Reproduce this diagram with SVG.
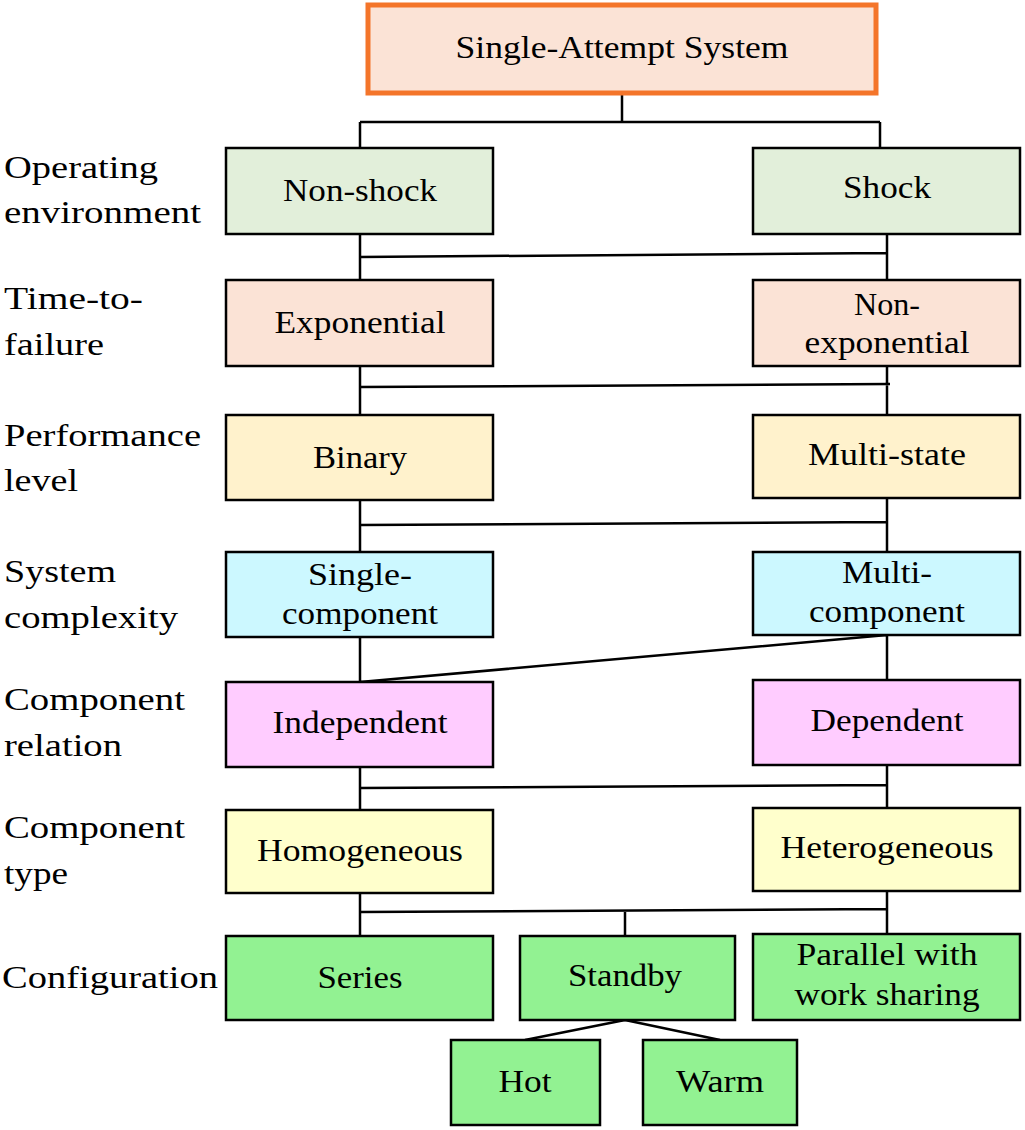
<svg xmlns="http://www.w3.org/2000/svg" width="1025" height="1130" viewBox="0 0 1025 1130">
<style>
rect{stroke:#000;stroke-width:2.5}
text{font-family:"Liberation Serif",serif;font-size:32px;fill:#000}
.c{text-anchor:middle}
#conn path{fill:none;stroke:#000;stroke-width:2.5}
</style>
<rect width="1025" height="1130" fill="#fff" style="stroke:none"/>
<g id="conn">
<path d="M622 93V122M360 122H880M360 122V148M880 122V148"/>
<path d="M360 234V280M887 234V280M360 257L887 253"/>
<path d="M360 366V415M887 366V415M360 387L890 384"/>
<path d="M360 500V552M887 498V552M360 525L887 522"/>
<path d="M360 637V682M887 635V680M360 682L887 635"/>
<path d="M360 767V810M887 765V808M360 788L887 785"/>
<path d="M360 893V936M887 891V934M360 912L887 909M625 912V936"/>
<path d="M625 1020L525 1040M625 1020L720 1040"/>
</g>
<g id="labels" lengthAdjust="spacingAndGlyphs">
<text x="4" y="178" textLength="154" lengthAdjust="spacingAndGlyphs">Operating</text><text x="4" y="223" textLength="197" lengthAdjust="spacingAndGlyphs">environment</text>
<text x="4" y="309" textLength="139" lengthAdjust="spacingAndGlyphs">Time-to-</text><text x="4" y="355" textLength="100" lengthAdjust="spacingAndGlyphs">failure</text>
<text x="4" y="446" textLength="197" lengthAdjust="spacingAndGlyphs">Performance</text><text x="4" y="491" textLength="74" lengthAdjust="spacingAndGlyphs">level</text>
<text x="4" y="582" textLength="112" lengthAdjust="spacingAndGlyphs">System</text><text x="4" y="628" textLength="174" lengthAdjust="spacingAndGlyphs">complexity</text>
<text x="4" y="710" textLength="181" lengthAdjust="spacingAndGlyphs">Component</text><text x="4" y="756" textLength="118" lengthAdjust="spacingAndGlyphs">relation</text>
<text x="4" y="838" textLength="181" lengthAdjust="spacingAndGlyphs">Component</text><text x="4" y="884" textLength="64" lengthAdjust="spacingAndGlyphs">type</text>
<text x="2" y="988" textLength="216" lengthAdjust="spacingAndGlyphs">Configuration</text>
</g>
<g id="top"><rect x="368" y="5" width="508" height="88" fill="#fbe3d6" style="stroke:#f4752a;stroke-width:5"/><text class="c" x="622" y="58" textLength="333" lengthAdjust="spacingAndGlyphs">Single-Attempt System</text></g>
<g id="nonshock"><rect x="226" y="148" width="267" height="86" fill="#e2efda"/><text class="c" x="360" y="201" textLength="154" lengthAdjust="spacingAndGlyphs">Non-shock</text></g>
<g id="shock"><rect x="753" y="148" width="267" height="86" fill="#e2efda"/><text class="c" x="887" y="198" textLength="88" lengthAdjust="spacingAndGlyphs">Shock</text></g>
<g id="exp"><rect x="226" y="280" width="267" height="86" fill="#fbe3d6"/><text class="c" x="360" y="333" textLength="171" lengthAdjust="spacingAndGlyphs">Exponential</text></g>
<g id="nonexp"><rect x="753" y="280" width="267" height="86" fill="#fbe3d6"/><text class="c" x="887" y="315" textLength="66" lengthAdjust="spacingAndGlyphs">Non-</text><text class="c" x="887" y="353" textLength="165" lengthAdjust="spacingAndGlyphs">exponential</text></g>
<g id="binary"><rect x="226" y="415" width="267" height="85" fill="#fff2cc"/><text class="c" x="360" y="468" textLength="94" lengthAdjust="spacingAndGlyphs">Binary</text></g>
<g id="multistate"><rect x="753" y="415" width="267" height="83" fill="#fff2cc"/><text class="c" x="887" y="465" textLength="158" lengthAdjust="spacingAndGlyphs">Multi-state</text></g>
<g id="single"><rect x="226" y="552" width="267" height="85" fill="#ccf8ff"/><text class="c" x="360" y="585" textLength="104" lengthAdjust="spacingAndGlyphs">Single-</text><text class="c" x="360" y="624" textLength="156" lengthAdjust="spacingAndGlyphs">component</text></g>
<g id="multi"><rect x="753" y="552" width="267" height="83" fill="#ccf8ff"/><text class="c" x="887" y="583" textLength="90" lengthAdjust="spacingAndGlyphs">Multi-</text><text class="c" x="887" y="622" textLength="156" lengthAdjust="spacingAndGlyphs">component</text></g>
<g id="indep"><rect x="226" y="682" width="267" height="85" fill="#ffccff"/><text class="c" x="360" y="733" textLength="175" lengthAdjust="spacingAndGlyphs">Independent</text></g>
<g id="dep"><rect x="753" y="680" width="267" height="85" fill="#ffccff"/><text class="c" x="887" y="731" textLength="153" lengthAdjust="spacingAndGlyphs">Dependent</text></g>
<g id="homo"><rect x="226" y="810" width="267" height="83" fill="#ffffcc"/><text class="c" x="360" y="861" textLength="206" lengthAdjust="spacingAndGlyphs">Homogeneous</text></g>
<g id="hetero"><rect x="753" y="808" width="267" height="83" fill="#ffffcc"/><text class="c" x="887" y="858" textLength="213" lengthAdjust="spacingAndGlyphs">Heterogeneous</text></g>
<g id="series"><rect x="226" y="936" width="267" height="84" fill="#92f292"/><text class="c" x="360" y="988" textLength="85" lengthAdjust="spacingAndGlyphs">Series</text></g>
<g id="standby"><rect x="520" y="936" width="215" height="84" fill="#92f292"/><text class="c" x="625" y="986" textLength="114" lengthAdjust="spacingAndGlyphs">Standby</text></g>
<g id="parallel"><rect x="753" y="934" width="267" height="86" fill="#92f292"/><text class="c" x="887" y="965" textLength="181" lengthAdjust="spacingAndGlyphs">Parallel with</text><text class="c" x="887" y="1005" textLength="185" lengthAdjust="spacingAndGlyphs">work sharing</text></g>
<g id="hot"><rect x="451" y="1040" width="149" height="85" fill="#92f292"/><text class="c" x="525" y="1092" textLength="53" lengthAdjust="spacingAndGlyphs">Hot</text></g>
<g id="warm"><rect x="643" y="1040" width="154" height="85" fill="#92f292"/><text class="c" x="720" y="1092" textLength="88" lengthAdjust="spacingAndGlyphs">Warm</text></g>
</svg>
